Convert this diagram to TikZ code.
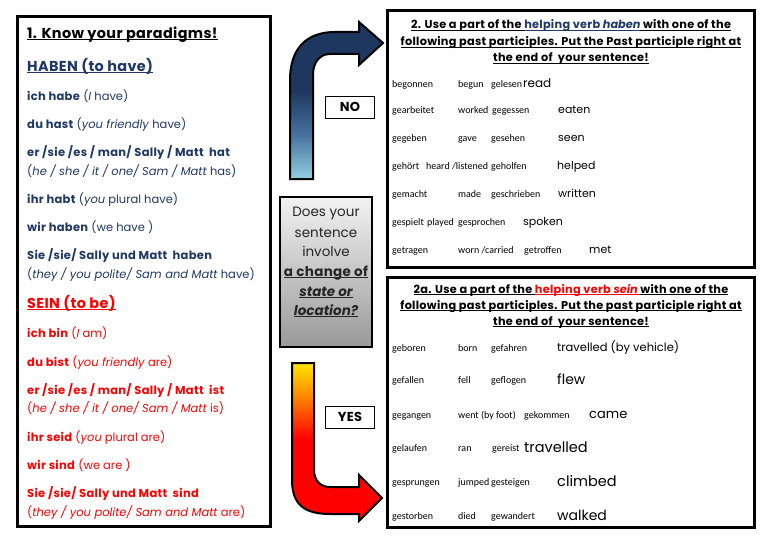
\documentclass[tikz,border=0pt]{standalone}
\usepackage{fontspec}
\setmainfont{Poppins}[BoldFeatures={LetterSpace=2.5}]
\newfontfamily\calfont{Carlito}

\newsavebox\undrbox
\newcommand\undr[1]{\sbox\undrbox{#1}\rlap{\rule[-0.16em]{\wd\undrbox}{0.075em}}\usebox\undrbox}

\definecolor{navy}{RGB}{31,56,100}
\definecolor{darkblue}{RGB}{30,55,95}
\definecolor{midblue}{RGB}{70,115,160}
\definecolor{lightblue}{RGB}{146,206,224}
\definecolor{myyellow}{RGB}{255,230,0}
\definecolor{myorange}{RGB}{255,140,0}
\definecolor{myred}{RGB}{255,0,0}

\pgfdeclareverticalshading{noshade}{100bp}{color(0bp)=(lightblue); color(25bp)=(lightblue); color(39bp)=(midblue); color(53bp)=(darkblue); color(100bp)=(darkblue)}
\pgfdeclareverticalshading{yesshade}{100bp}{color(0bp)=(myred); color(51bp)=(myred); color(65bp)=(myorange); color(75bp)=(myyellow); color(100bp)=(myyellow)}

\tikzset{
  lline/.style={anchor=base west, inner sep=0pt, font=\fontsize{11.5}{13}\selectfont},
  lhead/.style={anchor=base west, inner sep=0pt, font=\bfseries\fontsize{14.4}{16}\selectfont},
  rhead/.style={anchor=base, inner sep=0pt, font=\bfseries\fontsize{11.3}{13}\selectfont},
  smallw/.style={anchor=base west, inner sep=0pt, font=\calfont\fontsize{10}{11}\selectfont},
  bigw/.style={anchor=base west, inner sep=0pt, font=\fontsize{11}{12}\selectfont},
  qline/.style={anchor=base, inner sep=0pt, text=black!85, font=\fontsize{13.5}{15}\selectfont},
  answer/.style={draw, line width=0.8pt, fill=white, minimum width=49pt, minimum height=22pt, inner sep=0pt, font=\bfseries\fontsize{13}{15}\selectfont}
}

\begin{document}
\begin{tikzpicture}[x=1pt,y=-1pt]
\useasboundingbox (0,0) rectangle (768,543);
\fill[white] (0,0) rectangle (768,543);

% paradigms
\draw[line width=3pt] (17,17) rectangle (270,526);
\node[lhead] (k0) at (27,38) {\undr{1. Know your paradigms!}};
\begin{scope}[every node/.append style={text=navy}]
    \node[lhead] (hb) at (27,71) {\undr{HABEN (to have)}};
    \node[lline] (hb1) at (27,100) {\textbf{ich habe} (\textit{I} have)};
    \node[lline] (hb2) at (27,128) {\textbf{du hast} (\textit{you friendly} have)};
    \node[lline] (hb3) at (27,156) {\textbf{er /sie /es / man/ Sally / Matt \ hat}};
    \node[lline] (hb3e) at (27,175) {(\textit{he / she / it / one/ Sam / Matt} has)};
    \node[lline] (hb4) at (27,203) {\textbf{ihr habt} (\textit{you} plural have)};
    \node[lline] (hb5) at (27,231) {\textbf{wir haben} (we have )};
    \node[lline] (hb6) at (27,259) {\textbf{Sie /sie/ Sally und Matt \ haben}};
    \node[lline] (hb6e) at (27,278) {(\textit{they / you polite/ Sam and Matt} have)};
\end{scope}
\begin{scope}[every node/.append style={text=myred}]
    \node[lhead] (sn) at (27,308) {\undr{SEIN (to be)}};
    \node[lline] (sn1) at (27,337) {\textbf{ich bin} (\textit{I} am)};
    \node[lline] (sn2) at (27,366) {\textbf{du bist} (\textit{you friendly} are)};
    \node[lline] (sn3) at (27,394) {\textbf{er /sie /es / man/ Sally / Matt \ ist}};
    \node[lline] (sn3e) at (27,412) {(\textit{he / she / it / one/ Sam / Matt} is)};
    \node[lline] (sn4) at (27,441) {\textbf{ihr seid} (\textit{you} plural are)};
    \node[lline] (sn5) at (27,469) {\textbf{wir sind} (we are )};
    \node[lline] (sn6) at (27,497) {\textbf{Sie /sie/ Sally und Matt \ sind}};
    \node[lline] (sn6e) at (27,516) {(\textit{they / you polite/ Sam and Matt} are)};
\end{scope}

% question and arrows
\draw[line width=2pt, shading=noshade] (290,179) -- (290,80) .. controls (290,50) and (305,32) .. (335,32)
    -- (359,32) -- (359,22) -- (383,43) -- (359,65) -- (359,54) -- (330,54)
    .. controls (320,54) and (313,62) .. (313,75) -- (313,179) -- cycle;
\draw[line width=2pt, shading=yesshade] (292,363) -- (292,480) .. controls (292,505) and (305,514) .. (330,514)
    -- (359,514) -- (359,521) -- (382,498) -- (359,475) -- (359,487) -- (330,487)
    .. controls (320,487) and (314,480) .. (314,470) -- (314,363) -- cycle;
\draw[line width=2pt, top color=gray!10, bottom color=gray!80] (280,197) rectangle (372,347);
\node[qline] (q1) at (326,216) {Does your};
\node[qline] (q2) at (326,237) {sentence};
\node[qline] (q3) at (326,256) {involve};
\node[qline] (q4) at (326,276) {\bfseries\undr{a change of}};
\node[qline] (q5) at (326,296) {\bfseries\itshape\undr{state or}};
\node[qline] (q6) at (326,315) {\bfseries\itshape\undr{location?}};
\node[answer] (no) at (350,107) {NO};
\node[answer] (yes) at (350,417) {YES};

% haben participles
\draw[line width=3pt] (387,11) rectangle (754,267);
\node[rhead] (th1) at (571,29) {\undr{2. Use a part of the }{\color{navy}\undr{helping verb \textit{haben}}}\undr{ with one of the}};
\node[rhead] (th2) at (571,46) {\undr{following past participles. Put the Past participle right at}};
\node[rhead] (th3) at (571,62) {\undr{the end of \ your sentence!}};
\node[smallw] (a1) at (392,87) {begonnen};
\node[smallw] (a1e) at (458,87) {begun};
\node[smallw] (b1) at (491,87) {gelesen};
\node[bigw, font=\fontsize{12}{13}\selectfont] (b1e) at (523,87) {read};
\node[smallw] (a2) at (392,113) {gearbeitet};
\node[smallw] (a2e) at (458,113) {worked};
\node[smallw] (b2) at (492,113) {gegessen};
\node[bigw] (b2e) at (558,113) {eaten};
\node[smallw] (a3) at (392,141) {gegeben};
\node[smallw] (a3e) at (458,141) {gave};
\node[smallw] (b3) at (491,141) {gesehen};
\node[bigw] (b3e) at (558,141) {seen};
\node[smallw] (a4) at (392,169) {gehört};
\node[smallw] (a4e) at (426,169) {heard /listened};
\node[smallw] (b4) at (491,169) {geholfen};
\node[bigw] (b4e) at (557,169) {helped};
\node[smallw] (a5) at (392,197) {gemacht};
\node[smallw] (a5e) at (458,197) {made};
\node[smallw] (b5) at (491,197) {geschrieben};
\node[bigw] (b5e) at (558,197) {written};
\node[smallw] (a6) at (392,225) {gespielt};
\node[smallw] (a6e) at (427,225) {played};
\node[smallw] (b6) at (458,225) {gesprochen};
\node[bigw] (b6e) at (523,225) {spoken};
\node[smallw] (a7) at (392,253) {getragen};
\node[smallw] (a7e) at (458,253) {worn /carried};
\node[smallw] (b7) at (524,253) {getroffen};
\node[bigw] (b7e) at (589,253) {met};

% sein participles
\draw[line width=3pt] (387,277) rectangle (754,527);
\node[rhead] (ts1) at (571,293) {\undr{2a. Use a part of the }{\color{myred}\undr{helping verb \textit{sein} }}\undr{with one of the}};
\node[rhead] (ts2) at (571,309) {\undr{following past participles. Put the past participle right at}};
\node[rhead] (ts3) at (571,325) {\undr{the end of \ your sentence!}};
\node[smallw] (c1) at (392,351) {geboren};
\node[smallw] (c1e) at (458,351) {born};
\node[smallw] (d1) at (491,351) {gefahren};
\node[bigw, font=\fontsize{11.5}{12}\selectfont] (d1e) at (557,351) {travelled (by vehicle)};
\node[smallw] (c2) at (392,383) {gefallen};
\node[smallw] (c2e) at (458,383) {fell};
\node[smallw] (d2) at (491,383) {geflogen};
\node[bigw, font=\fontsize{14}{15}\selectfont] (d2e) at (557,384) {flew};
\node[smallw] (c3) at (392,418) {gegangen};
\node[smallw] (c3e) at (458,418) {went (by foot)};
\node[smallw] (d3) at (524,418) {gekommen};
\node[bigw, font=\fontsize{13}{14}\selectfont] (d3e) at (589,418) {came};
\node[smallw] (c4) at (392,451) {gelaufen};
\node[smallw] (c4e) at (458,451) {ran};
\node[smallw] (d4) at (492,451) {gereist};
\node[bigw, font=\fontsize{14.5}{15}\selectfont] (d4e) at (524,452) {travelled};
\node[smallw] (c5) at (392,485) {gesprungen};
\node[smallw] (c5e) at (458,485) {jumped};
\node[smallw] (d5) at (491,485) {gesteigen};
\node[bigw, font=\fontsize{14.5}{15}\selectfont] (d5e) at (557,486) {climbed};
\node[smallw] (c6) at (392,519) {gestorben};
\node[smallw] (c6e) at (458,519) {died};
\node[smallw] (d6) at (491,519) {gewandert};
\node[bigw, font=\fontsize{14}{15}\selectfont] (d6e) at (557,520) {walked};
\end{tikzpicture}
\end{document}
